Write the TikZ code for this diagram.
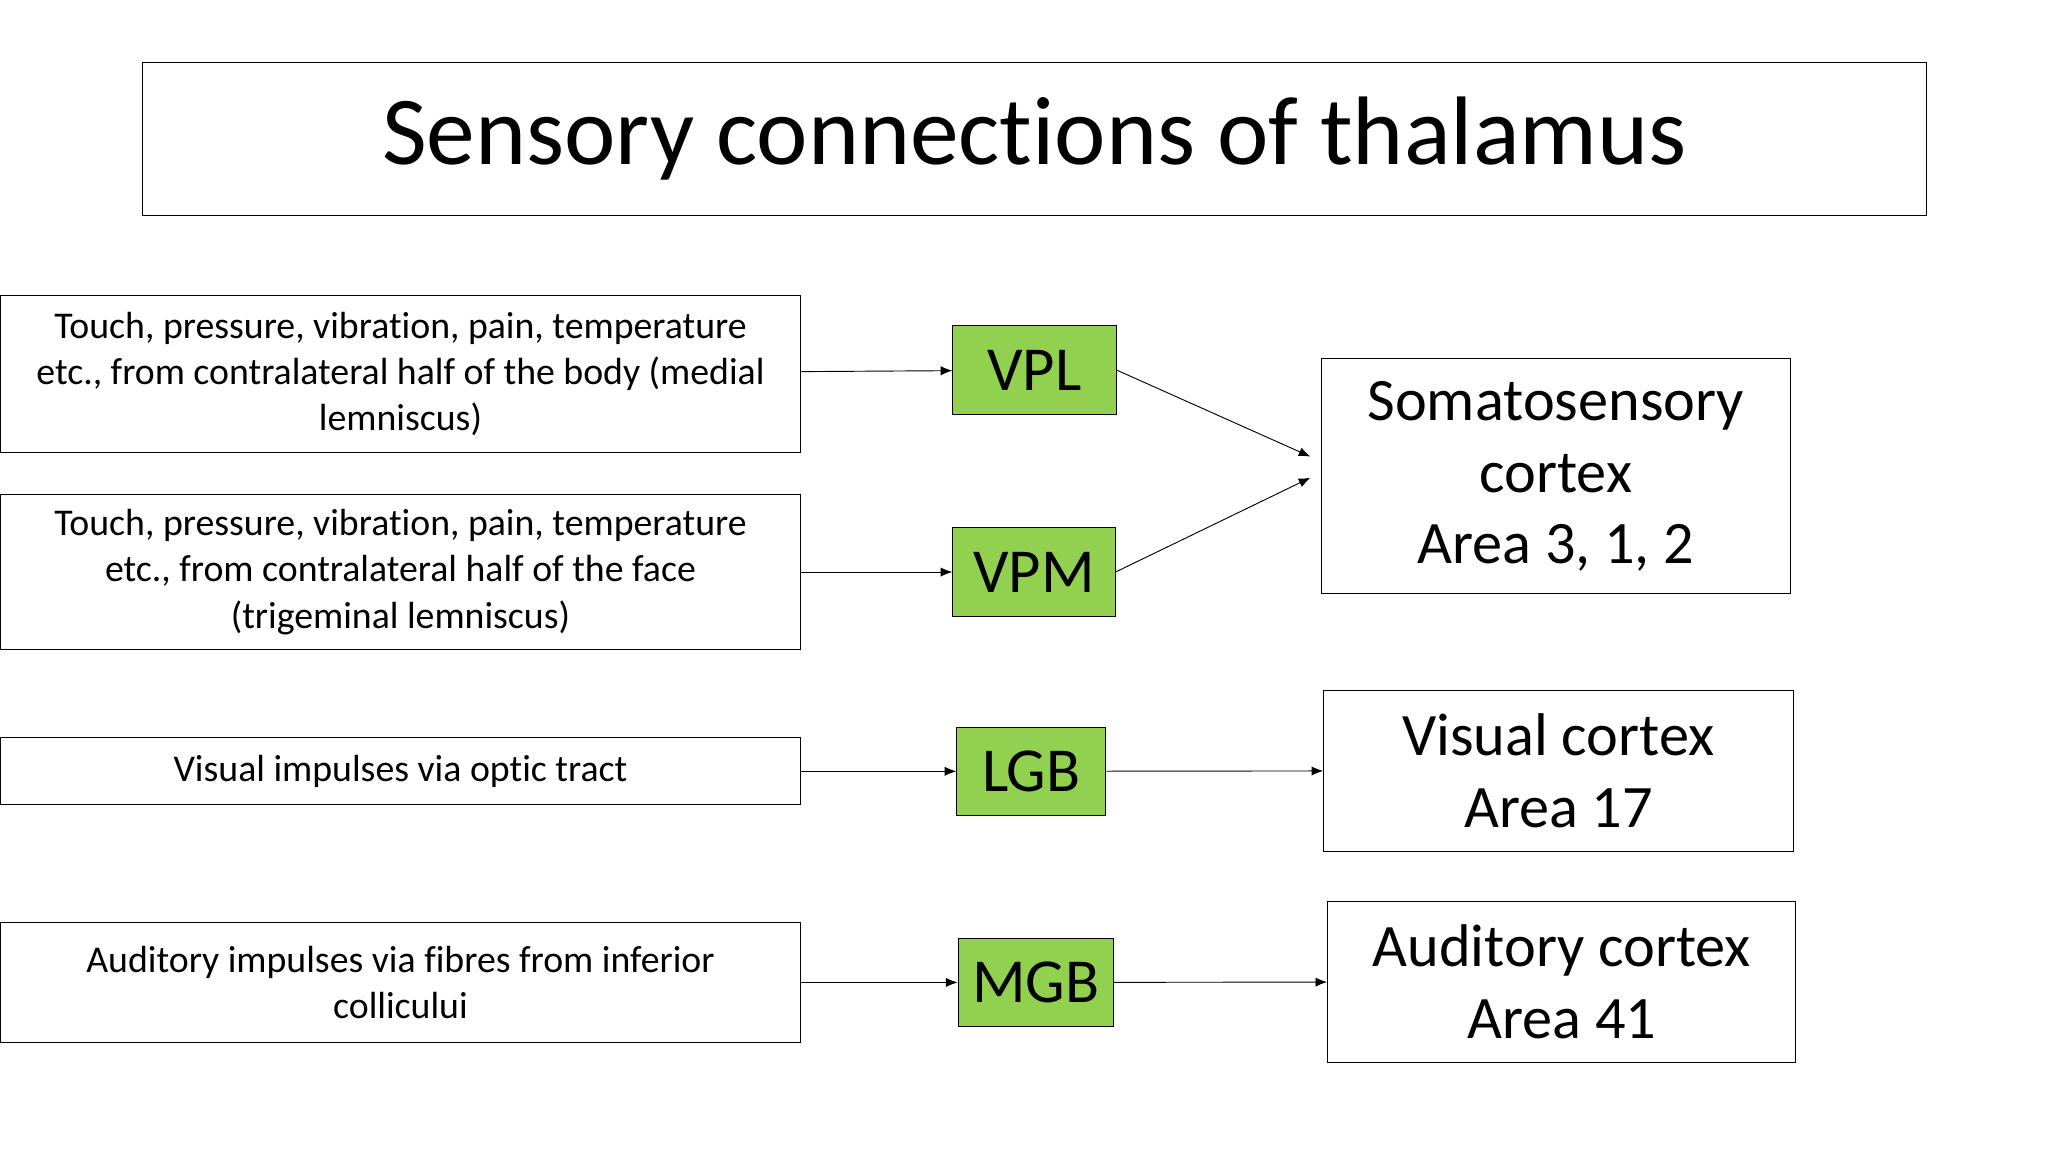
\documentclass[tikz,border=0pt]{standalone}
\usepackage{fontspec}
\setmainfont{Carlito}[Ligatures=NoCommon]
\usetikzlibrary{arrows.meta}
\definecolor{thal}{HTML}{92D050}
\begin{document}
\begin{tikzpicture}[x=0.02cm,y=-0.02cm,
  box/.style={draw,inner sep=0pt,align=center},
  src/.style={box,minimum width=12.14cm,font=\fontsize{16.3}{19.9}\selectfont},
  nuc/.style={box,fill=thal,minimum height=1.34cm,font=\fontsize{27}{30}\selectfont},
  ctx/.style={box,minimum width=7.12cm,font=\fontsize{26}{31}\selectfont},
  arr/.style={-{Latex[length=5pt,width=4pt]}}]
\useasboundingbox (0,0) rectangle (1552,873);
\node[box,minimum width=27.04cm,minimum height=2.32cm,font=\fontsize{42}{50}\selectfont] (title) at (784,105) {Sensory connections of thalamus};

\node[src,minimum height=2.38cm] (s1) at (303.5,283.5) {Touch, pressure, vibration, pain, temperature\\etc., from contralateral half of the body (medial\\lemniscus)};
\node[src,minimum height=2.34cm] (s2) at (303.5,433.5) {Touch, pressure, vibration, pain, temperature\\etc., from contralateral half of the face\\(trigeminal lemniscus)};
\node[src,minimum height=1.02cm] (s3) at (303.5,584.5) {Visual impulses via optic tract};
\node[src,minimum height=1.82cm] (s4) at (303.5,744.5) {Auditory impulses via fibres from inferior\\collicului};

\node[nuc,minimum width=2.48cm] (vpl) at (784,280.5) {VPL};
\node[nuc,minimum width=2.46cm] (vpm) at (783.5,433.5) {VPM};
\node[nuc,minimum width=2.26cm] (lgb) at (781.5,584.5) {LGB};
\node[nuc,minimum width=2.36cm] (mgb) at (785,744.5) {MGB};

\node[ctx,minimum height=3.56cm] (soma) at (1179,361) {Somatosensory\\cortex\\Area 3, 1, 2};
\node[ctx,minimum height=2.44cm] (vis) at (1181,584) {Visual cortex\\Area 17};
\node[ctx,minimum width=7.1cm,minimum height=2.44cm] (aud) at (1183.5,744) {Auditory cortex\\Area 41};

\coordinate (t1) at (993,346);
\coordinate (t2) at (993,362);
\draw[arr] (s1) -- (vpl);
\draw[arr] (s2) -- (vpm);
\draw[arr] (s3) -- (lgb);
\draw[arr] (s4) -- (mgb);
\draw[arr] (vpl.east) -- (t1);
\draw[arr] (vpm.east) -- (t2);
\draw[arr] (lgb) -- (vis);
\draw[arr] (mgb) -- (aud);
\end{tikzpicture}
\end{document}
